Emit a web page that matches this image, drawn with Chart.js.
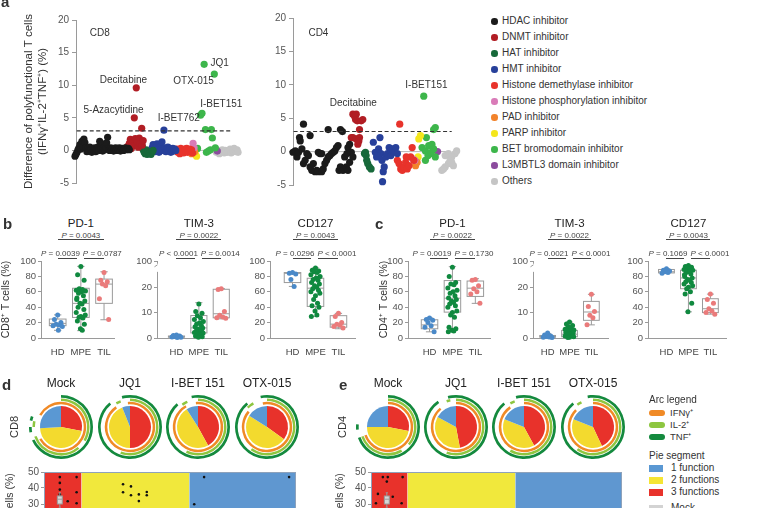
<!DOCTYPE html>
<html>
<head>
<meta charset="utf-8">
<script src="https://cdn.jsdelivr.net/npm/chart.js@4.4.0/dist/chart.umd.min.js"></script>
<style>
body{margin:0;width:768px;height:508px;overflow:hidden;background:#fff;position:relative;
  font-family:"Liberation Sans",Arial,sans-serif;color:#333}
canvas,.t,.ln,.sw{position:absolute}
.t{white-space:nowrap}
.ln{height:0;border-top:1px solid #444}
</style>
</head>
<body>
<script>
// ---------- panel a : scatter values [x position, difference %] ----------
var cd8Hdac = [[-1,-0.9],[0,-0.6],[1,-0.3],[2,0.1],[3,0.4],[4,0.9],[5,0.2],[6,1.4],[7,0.6],[8,1.75],[9,1.2],[10,0.4],[11,-0.2],[12,0.3],[13,-0.1],[14,0.5],[15,0.1],[16,-0.3],[17,0.3],[18,0.0],[19,0.4],[20,-0.2],[21,0.2],[22,0.5],[23,0.0],[24,1.4],[25,0.3],[26,1.05],[27,-0.1],[28,0.4],[29,0.1],[30,0.6],[31,1.15],[32,2.0],[33,0.3],[34,0.0],[35,0.4],[36,0.1],[37,0.3],[38,-0.1],[39,0.2],[40,0.4],[41,0.0],[42,0.3],[43,0.1],[44,0.4],[45,-0.1],[46,0.2],[47,0.3],[48,0.0],[49,0.2],[50,0.4],[51,0.1],[53,0.3],[54,0.1]];
var cd8Dnmt = [[52,0.6],[54,1.1],[55,1.7],[56,0.3],[57,1.2],[58,0.7],[59,5.0],[60,1.8],[61,9.6],[62,1.3],[63,0.5],[64,1.9],[65,1.0],[66.5,3.4],[67,0.8],[68,1.5]];
var cd8Hat = [[67,0.6],[68,0.1],[69,-0.3],[70,-0.5],[71,0.1],[72,-0.6],[73,-0.2],[74,-0.5],[75,-0.3],[76,-0.6],[77,-0.2],[78,0.0]];
var cd8Hmt = [[77,0.4],[78,0.9],[79,0.2],[80,-0.2],[81,0.5],[82,1.0],[83,0.1],[84,-0.3],[85,0.6],[86,0.2],[87,1.3],[88,0.0],[89,3.1],[90,0.4],[91,-0.2],[92,0.2],[93,0.5],[94,0.0],[95,0.3],[96,-0.3],[97,0.1],[98,0.3],[99,-0.1],[100,0.2],[101,0.0]];
var cd8Hdm = [[102,0.2],[103,-0.3],[104,0.1],[105,-0.5],[106,0.3],[107,-0.2],[108,0.0],[109,-0.4],[110,0.2],[111,-0.1],[112,0.3],[113,-0.3],[114,0.0],[115,0.2],[116,-0.2],[117,0.1],[118,-0.4]];
var cd8Hph = [[118.5,1.1],[119.5,0.4]];
var cd8Pad = [[117,-0.5],[120,-0.2]];
var cd8Parp = [[121,-0.6],[122,-0.9]];
var cd8Bet = [[123,0.3],[126,5.4],[127.5,5.7],[129.7,13.2],[131,3.2],[132,-0.3],[134,-0.1],[136,0.1],[137,3.2],[138,1.9],[140,11.7],[141,0.4]];
var cd8L3 = [[143,-0.1]];
var cd8Oth = [[142,-0.3],[144,0.0],[145,-0.5],[147,-0.2],[148,0.1],[150,-0.4],[151,0.0],[153,-0.3],[154,-0.1],[156,0.2],[157,-0.4],[159,-0.1],[160,0.3],[162,-0.2],[163,0.1],[164,-0.3]];

var cd4Hdac = [[0,-0.1],[2.3,0.1],[4,-0.8],[5.6,-0.1],[6.6,2.1],[7.3,1.6],[9,0.4],[10.6,4.1],[10.6,-1.8],[12.3,-1.3],[14,-0.3],[15.6,-0.6],[17.3,2.4],[17.3,-2.3],[19,-2.8],[20.6,-1.8],[22.3,-3.0],[24,-2.8],[25.6,-0.1],[25.6,-3.0],[27.3,-0.3],[29,-0.3],[29,-3.0],[30.6,-2.6],[32.3,-1.8],[34,-1.3],[35.6,3.3],[35.6,-0.8],[37.3,-0.6],[39,-0.3],[40.6,-0.1],[42.3,0.1],[44,0.6],[45.6,0.9],[46.6,-2.8],[48,3.3],[48,-2.3],[50,3.0],[50.6,-2.8],[52.3,-0.8],[54,-2.3],[54.6,-0.3],[55.6,0.6],[57.3,1.1],[59,-0.1],[57.3,-1.6],[55.6,-2.8],[60.6,-0.8]];
var cd4Dnmt = [[59,2.1],[60.6,5.6],[62.3,5.3],[64,5.6],[63.3,4.8],[65,4.6],[67.3,3.3],[69,4.6],[70.6,4.8],[60.6,2.1],[64,1.9],[65.6,1.1],[67.3,2.1],[66.6,1.6]];
var cd4Hat = [[72.3,-0.3],[74,-0.6],[75.6,-1.8],[77.3,-2.3],[74.6,-1.3],[79,-2.6],[73.3,-0.1]];
var cd4Hmt = [[81.3,1.4],[83.3,-0.1],[84.6,-0.8],[86.6,0.4],[88,2.1],[89,-0.3],[90,-1.3],[90.6,-4.5],[92.3,-2.3],[94,-0.8],[95.6,-0.3],[97.3,0.6],[99,-0.6],[100.6,0.4],[102.3,-0.1],[104,0.6],[105.6,-0.3],[91.3,-3.0],[85.6,-0.6]];
var cd4Hdm = [[108,4.1],[105.6,-1.3],[107.3,-1.8],[109,-2.6],[110.6,-2.8],[112.3,-2.3],[114,-1.6],[115.6,-2.6],[117.3,-2.1],[119,-0.8],[120.6,0.6],[122.3,-1.3],[114.6,-0.8]];
var cd4Hph = [[121.3,-1.1],[123.3,-1.3]];
var cd4Pad = [[124,-2.1],[125.6,-1.6]];
var cd4Parp = [[127.3,1.9],[129,2.4],[126.6,-0.8]];
var cd4Bet = [[132.3,8.3],[144,3.6],[142.3,3.3],[135,2.1],[130.6,0.6],[134,0.1],[137.3,0.9],[139,-0.3],[140.6,1.1],[142.3,0.4],[144,-0.8],[134,-1.3],[136.6,-0.6],[140,-0.1]];
var cd4L3 = [[146.3,0]];
var cd4Oth = [[154,-0.6],[157.3,-0.3],[160.6,-0.8],[164,-0.3],[165.6,0.1],[150.6,-2.8],[154,-2.3],[157.3,-1.8],[160.6,-1.6],[162.3,-2.1],[159,-1.3],[152.3,-2.6]];

var classNames = ['HDAC inhibitor','DNMT inhibitor','HAT inhibitor','HMT inhibitor','Histone demethylase inhibitor',
  'Histone phosphorylation inhibitor','PAD inhibitor','PARP inhibitor','BET bromodomain inhibitor','L3MBTL3 domain inhibitor','Others'];
var classColors = ['#1b1b1b','#b11d24','#17693a','#27409a','#e8332b','#d97bb8','#f2832b','#f4e61c','#3db64b','#8c4c9e','#c5c5c5'];
var yTicksA = [-5, 0, 5, 10, 15, 20];

// ---------- panels b, c : box plot values (%) ----------
var groupsBC = ['HD', 'MPE', 'TIL'];
var groupColors = ['#4a89c8', '#10893f', '#ea7b7b'];
var b8Pd1 = [[30,24,20,18,17,16,15,10],[93,82,75,64,63,62,61,60,58,55,52,48,45,44,40,37,33,30,28,27,26,22,18,12,10,50],[85,75,73,70,68,51,24]];
var b8Pd1Box = [[10,16,19,24.6,30],[9.5,26.7,45,64.6,93],[23.7,45,70,76.5,86]];
var b8Tim3 = [[1.2,1.0,0.8,0.6,0.5,0.4,0.3,0.2],[13.5,10.5,9.8,8.8,8,7.3,6.5,6,5.5,5,4.5,4,3.6,3.2,2.8,2.5,2.2,2,1.7,1.4,1.1,0.8,0.5,0.3],[19.5,19.2,10.5,9,8.3,8,7.8]];
var b8Tim3Box = [[0.1,0.3,0.5,0.8,1.2],[0,2,4,8.9,14],[7.6,8,9.6,19.3,19.6]];
var b8Cd127 = [[85,84,83,76,67],[91,88,87,86,85,82,80,78,76,75,72,70,68,66,64,62,60,58,55,50,45,42,40,35,30,28],[32,28,20,18,17,15,13]];
var b8Cd127Box = [[67,72,84,85,85],[28,41,64.7,77.6,91],[12,14,18,29,32]];
var c4Pd1 = [[26,24,23,20,16,14,8],[92,80,72,70,69,65,62,60,58,55,52,50,48,46,44,42,40,35,33,30,27,14,12,10,9,8],[76,75,68,64,60,57,45]];
var c4Pd1Box = [[8,12,17,23.7,26],[8.6,33.6,51.7,74.6,92.7],[45,54,64.7,74,77]];
var c4Tim3 = [[2,1.2,0.8,0.6,0.4,0.3,0.2],[6.3,5.5,5,4.5,4,3.5,3.2,3,2.8,2.5,2.2,2,1.8,1.5,1.2,1,0.8,0.5,0.3,0.2],[17.3,12.5,10.5,9,8,5.2]];
var c4Tim3Box = [[0,0.3,0.6,1,1.8],[0,0.5,1.5,3,6.3],[5.2,7,10.3,14.5,17.3]];
var c4Cd127 = [[90,88,87,86,85,84],[94,93,92,91,90,89,88,86,85,83,80,78,76,75,73,72,70,68,66,64,60,57,45,34,87,82],[57,50,45,38,35,33,31]];
var c4Cd127Box = [[84,84.5,86,89,90],[34,64,78,88,94],[31,33,38,51,57]];
var jitter = [0,-0.14,0.14,-0.07,0.07,-0.2,0.2,0.03,-0.1,0.11,-0.17,0.17,-0.04,0.05,-0.12,0.13,-0.2,0.19,0.0,-0.08,0.09,-0.15,0.15,-0.02,0.06,-0.18,0.18,-0.1];
var yTicksPct = [0, 20, 40, 60, 80, 100];
var yTicksTim = [0, 5, 10, 15, 20, 25, 30.5];   // 30.5 = broken-axis "100"

// ---------- panels d, e : pie segments (% 3 / 2 / 1 functions) and arcs (deg on/off from top) ----------
var treatments = ['Mock', 'JQ1', 'I-BET 151', 'OTX-015'];
var pie8 = [[28,46,26],[50,44,6],[42,49,9],[35,49,16]];
var pie4 = [[28,47,25],[47,36,17],[42,39,19],[43,38,19]];
var tnf8 = [[245,15,10,12,8,70],[320,25,15],[318,30,12],[320,28,12]];
var il28 = [[120,20,110,20,12,78],[200,130,10,20],[205,120,12,23],[215,100,15,30]];
var ifn8 = [[240,60,60],[325,30,5],[330,25,5],[310,40,10]];
var tnf4 = [[250,15,10,85],[325,20,15],[320,25,15],[320,30,10]];
var il24 = [[130,20,100,110],[200,140,8,12],[210,120,10,20],[215,110,10,25]];
var ifn4 = [[250,110],[320,40],[325,35],[315,45]];

// bottom strips: band edges and individual values
var bandEdges8 = [0, 38, 147, 255];
var bandEdges4 = [0, 37, 146, 254];
var dots8 = [[16,46.8],[16,43.2],[16,39],[16,36],[24,31.7],[33,46.8],[33,37.3],[33,30.5],[80,42.3],[80,37.3],[88,41],[88,35.5],[96,36],[96,31.8],[104,37.5],[104,35.5],[162,46.8],[248,46.8],[152,29.8]];
var dots4 = [[12,46.8],[17,46.8],[16,44],[7,36.3],[22,34.5],[32,46.8],[31,30.5],[5,30.5]];
var yTicksStrip = [0, 10, 20, 30, 40, 50];

var RED = '#e8322b', YEL = '#f3da2e', BLU = '#5a98d3';
var OR = '#f08a26', LG = '#8dc640', DG = '#148a3e';

Chart.defaults.font.family = '"Liberation Sans", Arial, sans-serif';
Chart.defaults.color = '#555';
Chart.defaults.animation = false;
Chart.defaults.events = [];
Chart.defaults.plugins.legend.display = false;
Chart.defaults.plugins.tooltip.enabled = false;

function canvasAt(left, top, w, h) {
  var c = document.createElement('canvas');
  c.width = w; c.height = h;
  c.style.left = left + 'px'; c.style.top = top + 'px';
  document.body.appendChild(c);
  return c;
}
function textAt(html, left, top, size, align, extra) {
  var d = document.createElement('div');
  d.className = 't';
  d.innerHTML = html;
  d.style.left = left + 'px'; d.style.top = top + 'px';
  d.style.fontSize = size + 'px'; d.style.lineHeight = Math.round(size * 1.15) + 'px';
  if (align == 'center') d.style.transform = 'translateX(-50%)';
  if (align == 'right') d.style.transform = 'translateX(-100%)';
  if (extra) d.style.cssText += extra;
  document.body.appendChild(d);
  return d;
}
function lineAt(x0, x1, y) {
  var d = document.createElement('div');
  d.className = 'ln';
  d.style.left = x0 + 'px'; d.style.width = (x1 - x0) + 'px'; d.style.top = y + 'px';
  document.body.appendChild(d);
}
function toXY(arr) { return arr.map(function (p) { return {x: p[0], y: p[1]}; }); }
function fixedTicks(list) { return function (axis) { axis.ticks = list.map(function (v) { return {value: v}; }); }; }

// labels at data positions
var textMarks = {
  id: 'textMarks',
  afterDatasetsDraw: function (chart, args, opts) {
    var ctx = chart.ctx;
    (opts.items || []).forEach(function (t) {
      ctx.save();
      ctx.font = '10px "Liberation Sans", Arial';
      ctx.fillStyle = '#333';
      ctx.textAlign = t.align || 'center';
      ctx.textBaseline = 'middle';
      ctx.fillText(t.text, chart.scales.x.getPixelForValue(t.x), chart.scales.y.getPixelForValue(t.y));
      ctx.restore();
    });
  }
};

// box + whiskers from [low, q1, median, q3, high]
function drawBoxes(chart, opts) {
  var ctx = chart.ctx, xs = chart.scales.x, ys = chart.scales.y;
  ctx.save();
  ctx.strokeStyle = '#9a9a9a'; ctx.lineWidth = 1;
  (opts.items || []).forEach(function (b) {
    var xl = xs.getPixelForValue(b.x - opts.half), xr = xs.getPixelForValue(b.x + opts.half);
    var xc = xs.getPixelForValue(b.x), cap = (xr - xl) * 0.22;
    var p = b.s.map(function (v) { return ys.getPixelForValue(v); });
    if (opts.fill) { ctx.fillStyle = opts.fill; ctx.fillRect(xl, p[3], xr - xl, p[1] - p[3]); }
    ctx.strokeRect(xl, p[3], xr - xl, p[1] - p[3]);
    ctx.beginPath();
    ctx.moveTo(xl, p[2]); ctx.lineTo(xr, p[2]);
    ctx.moveTo(xc, p[1]); ctx.lineTo(xc, p[0]);
    ctx.moveTo(xc, p[3]); ctx.lineTo(xc, p[4]);
    ctx.moveTo(xc - cap, p[0]); ctx.lineTo(xc + cap, p[0]);
    ctx.moveTo(xc - cap, p[4]); ctx.lineTo(xc + cap, p[4]);
    ctx.stroke();
  });
  ctx.restore();
}
var boxes = {
  id: 'boxes',
  beforeDatasetsDraw: function (chart, args, opts) { if (!opts.after) drawBoxes(chart, opts); },
  afterDatasetsDraw: function (chart, args, opts) { if (opts.after) drawBoxes(chart, opts); }
};

// y axis drawn in pieces (TIM-3 break)
var brokenAxis = {
  id: 'brokenAxis',
  afterDraw: function (chart, args, opts) {
    if (!opts.parts) return;
    var ctx = chart.ctx, ys = chart.scales.y, x = chart.chartArea.left + 0.5;
    ctx.save(); ctx.strokeStyle = '#9a9a9a'; ctx.lineWidth = 1;
    ctx.beginPath();
    opts.parts.forEach(function (pr) { ctx.moveTo(x, ys.getPixelForValue(pr[0])); ctx.lineTo(x, ys.getPixelForValue(pr[1])); });
    var yb = ys.getPixelForValue(29);
    ctx.moveTo(x, yb); ctx.lineTo(x - 3, yb + 2);
    ctx.stroke(); ctx.restore();
  }
};

var frame = {
  id: 'frame',
  afterDatasetsDraw: function (chart) {
    var a = chart.chartArea, ctx = chart.ctx;
    ctx.save(); ctx.strokeStyle = '#8ea2bb'; ctx.lineWidth = 1;
    ctx.strokeRect(a.left + 0.5, a.top + 0.5, a.right - a.left - 1, a.bottom - a.top);
    ctx.restore();
  }
};

// ---------- panel a ----------
function scatterPanel(left, width, groups, marks, o) {
  var c = canvasAt(left, 0, width, 195);
  var ds = [{type: 'line', data: [{x: o.z0, y: 0}, {x: o.z1, y: 0}], borderColor: '#b8b8b8', borderWidth: 1, pointRadius: 0, order: 3}];
  groups.forEach(function (g, i) {
    ds.push({data: toXY(g), backgroundColor: classColors[i], borderWidth: 0, pointRadius: 3.6, clip: false, order: 2});
  });
  ds.push({type: 'line', data: [{x: o.d0, y: 3}, {x: o.d1, y: 3}], borderColor: '#333', borderWidth: 1.1, borderDash: [4, 2.5], pointRadius: 0, order: 1});
  var yTitle = o.title ? {display: true, text: o.title, font: {size: 11.5}, color: '#333', padding: {top: 22, bottom: 0}} : {display: false};
  new Chart(c, {
    type: 'scatter',
    data: {datasets: ds},
    options: {
      responsive: false,
      layout: {padding: {top: o.top, bottom: 195 - o.bottom, left: 0, right: 2}},
      scales: {
        x: {type: 'linear', display: false, min: 0, max: o.xmax},
        y: {min: -5, max: 20, afterBuildTicks: fixedTicks(yTicksA),
          afterFit: function (s) { s.width = o.yw; },
          grid: {drawOnChartArea: false, color: '#9a9a9a', tickLength: 4},
          border: {color: '#9a9a9a'},
          ticks: {font: {size: 10}, color: '#555', padding: 3},
          title: yTitle}
      },
      plugins: {textMarks: {items: marks}}
    },
    plugins: [textMarks]
  });
}

scatterPanel(0, 246, [cd8Hdac, cd8Dnmt, cd8Hat, cd8Hmt, cd8Hdm, cd8Hph, cd8Pad, cd8Parp, cd8Bet, cd8L3, cd8Oth],
  [{text: 'CD8', x: 14, y: 18, align: 'left'}, {text: 'Decitabine', x: 48, y: 10.8}, {text: '5-Azacytidine', x: 38, y: 6.2},
   {text: 'JQ1', x: 136, y: 13.4, align: 'left'}, {text: 'OTX-015', x: 119, y: 10.6}, {text: 'I-BET151', x: 147, y: 7.1},
   {text: 'I-BET762', x: 104, y: 5.0}],
  {yw: 76, xmax: 168, top: 20, bottom: 183, z0: 0, z1: 165, d0: 0.7, d1: 157,
   title: ['Difference of polyfunctional T cells', '(IFNγ⁺IL-2⁺TNF⁺) (%)']});
scatterPanel(255, 210, [cd4Hdac, cd4Dnmt, cd4Hat, cd4Hmt, cd4Hdm, cd4Hph, cd4Pad, cd4Parp, cd4Bet, cd4L3, cd4Oth],
  [{text: 'CD4', x: 15.6, y: 17.7, align: 'left'}, {text: 'I-BET151', x: 135, y: 9.9}, {text: 'Decitabine', x: 61, y: 7.3}],
  {yw: 38, xmax: 170, top: 18, bottom: 185, z0: 0, z1: 160, d0: 0.6, d1: 160.6});

textAt('a', 1, -7, 15, null, 'font-weight:bold');
classNames.forEach(function (n, i) {
  var y = 21 + i * 16;
  var d = document.createElement('div');
  d.className = 'sw';
  d.style.cssText += 'left:491px;top:' + (y - 3) + 'px;width:6.5px;height:6.5px;border-radius:50%;background:' + classColors[i];
  document.body.appendChild(d);
  textAt(n, 502, y - 6, 10, null, 'color:#333');
});

// ---------- panels b, c ----------
function boxPanel(left, width, yw, xr, vals, stats, title, pv, o) {
  var c = canvasAt(left, 250, width, 116);
  var ds = vals.map(function (g, i) {
    return {data: g.map(function (v, k) { return {x: i + jitter[k % jitter.length], y: v}; }),
      backgroundColor: groupColors[i], borderWidth: 0, pointRadius: 2.5, clip: false};
  });
  var tim = o.tim;
  var yTitle = o.title ? {display: true, text: o.title, font: {size: 10.5}, color: '#333', padding: {top: 0, bottom: 0}} : {display: false};
  var ch = new Chart(c, {
    type: 'scatter',
    data: {datasets: ds},
    options: {
      responsive: false,
      layout: {padding: {top: 11, bottom: 8, left: 0, right: 2}},
      scales: {
        x: {type: 'linear', min: xr[0], max: xr[1], afterBuildTicks: fixedTicks([0, 1, 2]),
          afterFit: function (s) { s.height = 20; },
          grid: {display: false}, border: {color: '#9a9a9a'},
          ticks: {font: {size: 9.5}, color: '#444', padding: 1, callback: function (v) { return groupsBC[v]; }}},
        y: {min: 0, max: tim ? 30.5 : 100, afterBuildTicks: fixedTicks(tim ? yTicksTim : yTicksPct),
          afterFit: function (s) { s.width = yw; },
          grid: {drawOnChartArea: false, color: '#9a9a9a', tickLength: 3},
          border: {display: !tim, color: '#9a9a9a'},
          ticks: {font: {size: 9.5}, color: '#555', padding: 2,
            callback: function (v) { return v == 30.5 ? '100' : v; }},
          title: yTitle}
      },
      plugins: {
        boxes: {half: 0.36, items: stats.map(function (s, i) { return {x: i, s: s}; })},
        brokenAxis: tim ? {parts: [[0, 26.2], [29.4, 30.5]]} : {}
      }
    },
    plugins: [boxes, brokenAxis]
  });
  var xs = ch.scales.x;
  var c0 = left + xs.getPixelForValue(0), c1 = left + xs.getPixelForValue(1), c2 = left + xs.getPixelForValue(2);
  textAt(title, c1, 217, 11.5, 'center', 'color:#222');
  textAt(pv[0], (c0 + c2) / 2, 231, 8, 'center', 'color:#444');
  lineAt(c0, c2, 239);
  textAt(pv[1], c1 - 1, 249, 8, 'right', 'color:#444');
  textAt(pv[2], c1 + 2, 249, 8, null, 'color:#444');
  lineAt(c0, c1 - 4, 258);
  lineAt(c1 + 3, c2, 258);
}

boxPanel(0, 118, 41, [-0.72, 2.43], b8Pd1, b8Pd1Box, 'PD-1',
  ['<i>P</i> = 0.0043', '<i>P</i> = 0.0039', '<i>P</i> = 0.0787'], {title: 'CD8⁺ T cells (%)'});
boxPanel(120, 114, 37, [-0.87, 2.39], b8Tim3, b8Tim3Box, 'TIM-3',
  ['<i>P</i> = 0.0022', '<i>P</i> &lt; 0.0001', '<i>P</i> = 0.0014'], {tim: true});
boxPanel(240, 119, 30, [-0.98, 2.72], b8Cd127, b8Cd127Box, 'CD127',
  ['<i>P</i> = 0.0043', '<i>P</i> = 0.0296', '<i>P</i> &lt; 0.0001'], {});
boxPanel(378, 116, 30, [-0.94, 2.64], c4Pd1, c4Pd1Box, 'PD-1',
  ['<i>P</i> = 0.0022', '<i>P</i> = 0.0019', '<i>P</i> = 0.1730'], {title: 'CD4⁺ T cells (%)'});
boxPanel(500, 112, 33, [-0.67, 2.76], c4Tim3, c4Tim3Box, 'TIM-3',
  ['<i>P</i> = 0.0022', '<i>P</i> = 0.0021', '<i>P</i> &lt; 0.0001'], {tim: true});
boxPanel(615, 115, 33, [-0.84, 2.71], c4Cd127, c4Cd127Box, 'CD127',
  ['<i>P</i> = 0.0043', '<i>P</i> = 0.1069', '<i>P</i> &lt; 0.0001'], {});
textAt('b', 3, 215, 15, null, 'font-weight:bold');
textAt('c', 375, 215, 15, null, 'font-weight:bold');

// ---------- panels d, e : pies with arcs ----------
function ring(arr, color, w) {
  return {data: arr, backgroundColor: arr.map(function (v, i) { return i % 2 ? 'rgba(0,0,0,0)' : color; }), borderWidth: 0, weight: w};
}
function spacer(w) { return {data: [1], backgroundColor: ['rgba(0,0,0,0)'], borderWidth: 0, weight: w}; }
function piePanel(cx, cy, pie, tnf, il2, ifn) {
  var c = canvasAt(cx - 33, cy - 33, 66, 66);
  new Chart(c, {
    type: 'doughnut',
    data: {datasets: [ring(tnf, DG, 2.7), spacer(0.8), ring(il2, LG, 2.5), spacer(0.8), ring(ifn, OR, 2.5), spacer(1.7),
      {data: pie, backgroundColor: [RED, YEL, BLU], borderWidth: 0, weight: 21}]},
    options: {responsive: false, cutout: 0, layout: {padding: 1}}
  });
}
var pieX8 = [61, 130, 198, 267], pieX4 = [388, 456, 524, 593];
treatments.forEach(function (t, i) {
  piePanel(pieX8[i], 427, pie8[i], tnf8[i], il28[i], ifn8[i]);
  piePanel(pieX4[i], 427, pie4[i], tnf4[i], il24[i], ifn4[i]);
  textAt(t, pieX8[i], 376, 12, 'center', 'color:#222');
  textAt(t, pieX4[i], 376, 12, 'center', 'color:#222');
});
textAt('d', 2, 376, 15, null, 'font-weight:bold');
textAt('e', 339, 376, 15, null, 'font-weight:bold');
textAt('CD8', 14, 427, 11, null, 'color:#333;transform:translate(-50%,-50%) rotate(-90deg)');
textAt('CD4', 342, 427, 11, null, 'color:#333;transform:translate(-50%,-50%) rotate(-90deg)');

// ---------- bottom strips ----------
function stripPanel(left, yw, edges, dots, boxX) {
  var width = yw + edges[3] + 1;
  var c = canvasAt(left, 462, width, 98);
  var cols = [RED, '#f1e83c', '#5f97d0'];
  var ds = cols.map(function (col, i) {
    return {type: 'line', data: [{x: edges[i], y: 50}, {x: edges[i + 1], y: 50}], fill: 'origin',
      backgroundColor: col, borderWidth: 0, pointRadius: 0, order: 2};
  });
  ds.push({data: toXY(dots), backgroundColor: '#111', borderWidth: 0, pointRadius: 1.3, clip: false, order: 1});
  new Chart(c, {
    type: 'scatter',
    data: {datasets: ds},
    options: {
      responsive: false,
      layout: {padding: {top: 10, bottom: 4, left: 0, right: 1}},
      scales: {
        x: {type: 'linear', display: false, min: 0, max: edges[3]},
        y: {min: 0, max: 50, afterBuildTicks: fixedTicks(yTicksStrip),
          afterFit: function (s) { s.width = yw; },
          grid: {drawOnChartArea: false, color: '#9a9a9a', tickLength: 3},
          border: {color: '#9a9a9a'},
          ticks: {font: {size: 10}, color: '#555', padding: 2},
          title: {display: true, text: 'CD8⁺ T cells (%)', font: {size: 10.5}, color: '#333', padding: {top: 4, bottom: 0}}}
      },
      plugins: {boxes: {after: true, half: 2.5, fill: '#d6d6d6', items: [{x: boxX, s: [28, 30, 33, 35, 37]}]}}
    },
    plugins: [frame, boxes]
  });
}
stripPanel(0, 44, bandEdges8, dots8, 16);
stripPanel(330, 41, bandEdges4, dots4, 16);

// ---------- legends d/e ----------
textAt('Arc legend', 649, 394, 10, null, 'color:#333');
[['IFNγ⁺', OR], ['IL-2⁺', LG], ['TNF⁺', DG]].forEach(function (a, i) {
  var y = 413 + i * 12;
  var d = document.createElement('div');
  d.className = 'sw';
  d.style.cssText += 'left:649px;top:' + (y - 3) + 'px;width:16px;height:6px;border-radius:3px;background:' + a[1];
  document.body.appendChild(d);
  textAt(a[0], 670, y - 6, 9.5, null, 'color:#333');
});
textAt('Pie segment', 649, 450, 10, null, 'color:#333');
[['1 function', BLU], ['2 functions', '#f5e534'], ['3 functions', RED], ['Mock', '#d3d3d3']].forEach(function (a, i) {
  var y = 468 + i * 12 + (i == 3 ? 4 : 0);
  var d = document.createElement('div');
  d.className = 'sw';
  d.style.cssText += 'left:649px;top:' + (y - 3) + 'px;width:14px;height:7px;background:' + a[1];
  document.body.appendChild(d);
  textAt(a[0], 671, y - 6, 10, null, 'color:#333');
});
</script>
</body>
</html>
